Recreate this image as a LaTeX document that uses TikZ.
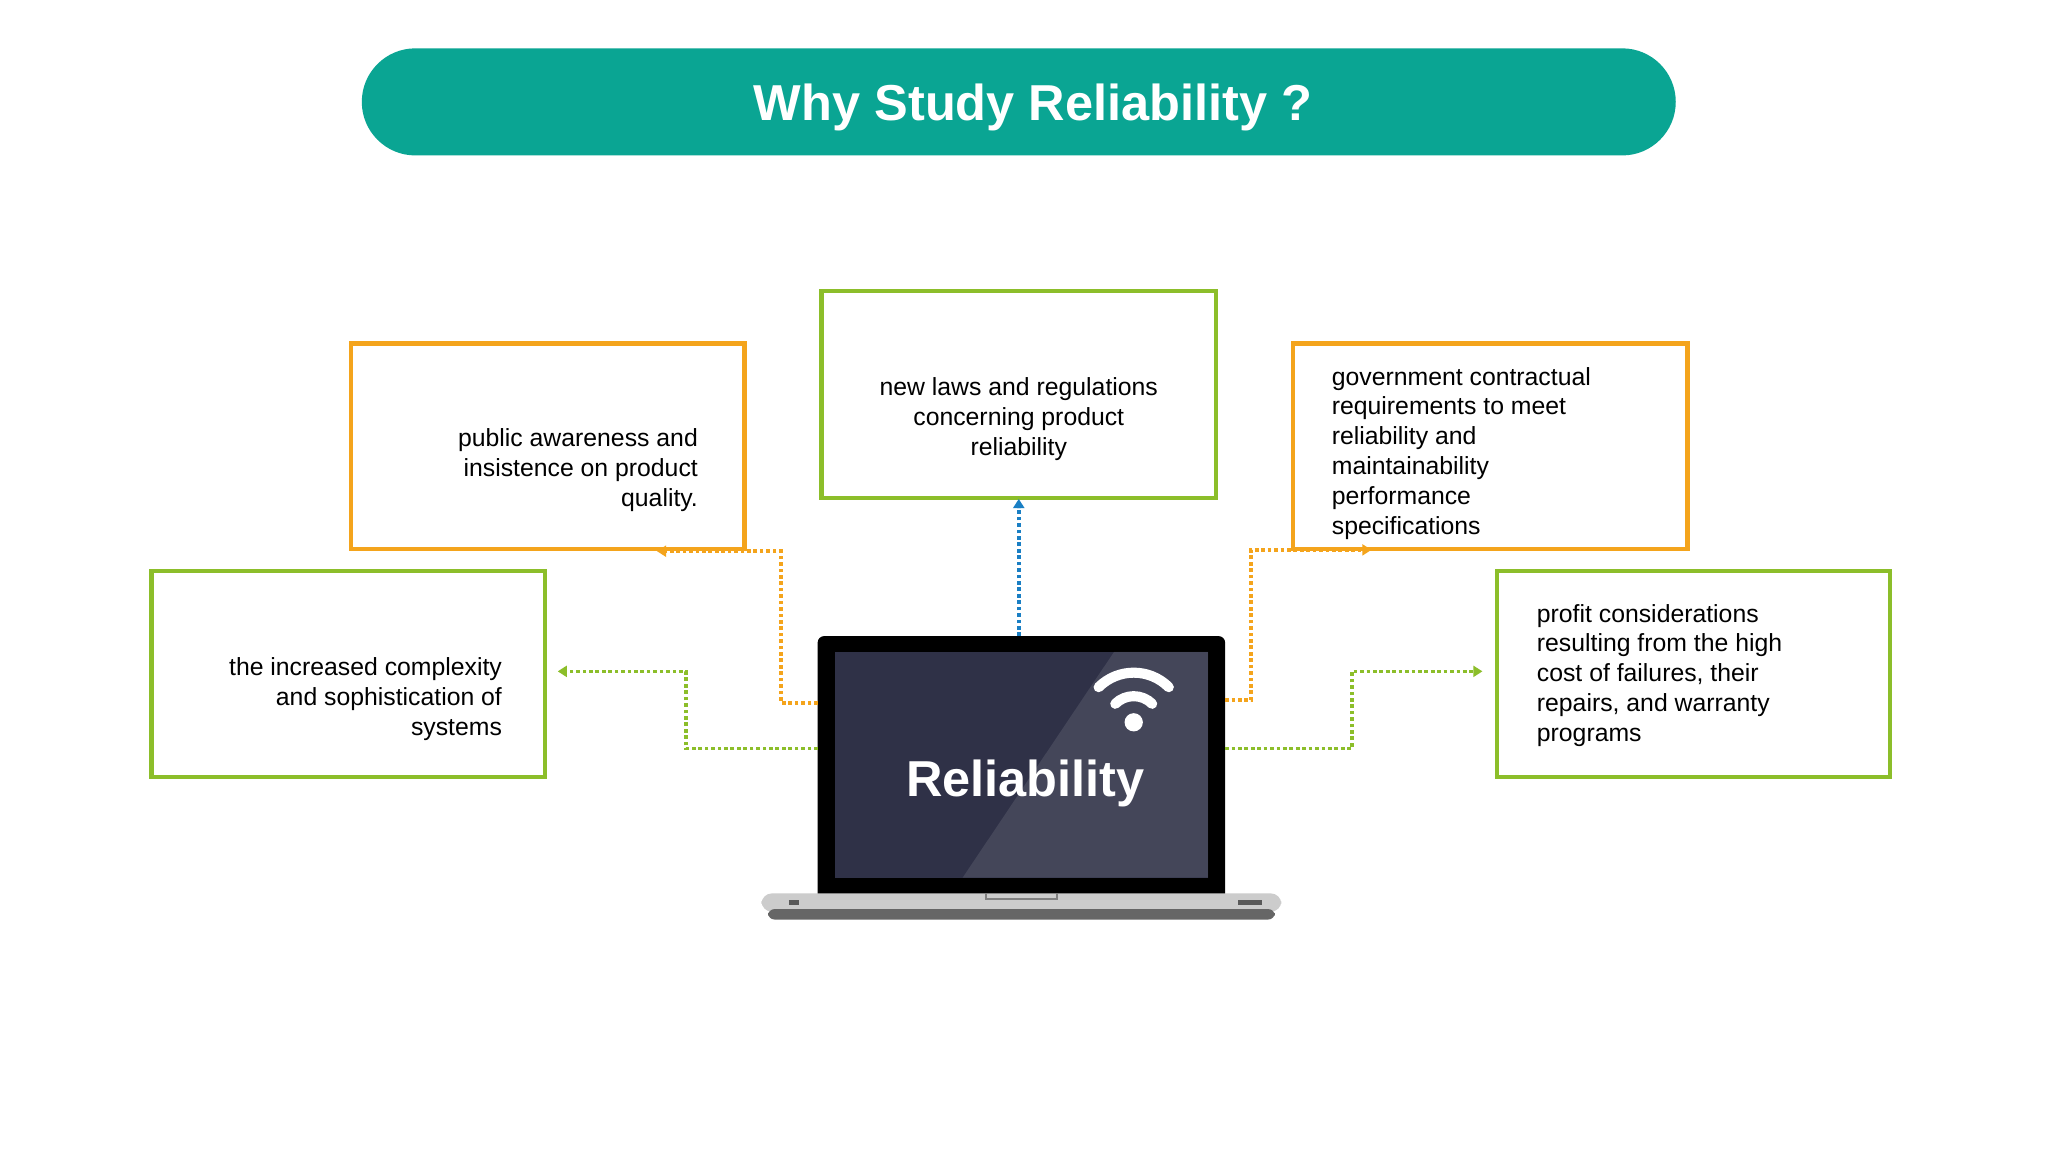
\documentclass[tikz,border=0pt]{standalone}
\usepackage{fontspec}
\setmainfont{Liberation Sans}
\usetikzlibrary{arrows.meta}
\definecolor{teal}{HTML}{0AA593}
\definecolor{org}{HTML}{F4A41C}
\definecolor{grn}{HTML}{8CBE2A}
\definecolor{blu}{HTML}{1A7FC4}
\definecolor{scr}{HTML}{2F3147}
\tikzset{
 box/.style={draw, line width=0.9pt, inner sep=0pt},
 txt/.style={font=\fontsize{5.4}{6.5}\selectfont, align=#1, inner sep=0pt},
 con/.style={draw=#1, line width=0.8pt, dash pattern=on 0.8pt off 0.6pt, -{Triangle[length=2pt,width=2.4pt]}},
}
\begin{document}
\begin{tikzpicture}[x=0.1mm,y=-0.1mm]
\useasboundingbox (0,0) rectangle (1568,882);
\fill[white] (0,0) rectangle (1568,882);
% title
\fill[teal, rounded corners=41*0.1mm] (277,37) rectangle (1283,119);
\node[text=white, font=\fontsize{11}{13}\selectfont\bfseries] (title) at (791,82) {Why Study Reliability ?};
% boxes
\draw[box, draw=org] (269,263) rectangle (570,420);
\coordinate (A) at (503,422);
\node[txt=right, anchor=east] (ta) at (535,360) {public awareness and\\insistence on product\\quality.};
\draw[box, draw=grn] (629,223) rectangle (931,381);
\coordinate (B) at (780,382);
\node[txt=center] (tb) at (780,321) {new laws and regulations\\concerning product\\reliability};
\draw[box, draw=org] (990,263) rectangle (1292,420);
\coordinate (C) at (1050,421);
\node[txt=left, anchor=west] (tc) at (1019,347) {government contractual\\requirements to meet\\reliability and\\maintainability\\performance\\specifications};
\draw[box, draw=grn] (116,437) rectangle (417,595);
\coordinate (D) at (427,514);
\node[txt=right, anchor=east] (td) at (385,535) {the increased complexity\\and sophistication of\\systems};
\draw[box, draw=grn] (1146,437) rectangle (1447,595);
\coordinate (E) at (1135,514);
\node[txt=left, anchor=west] (te) at (1176,517) {profit considerations\\resulting from the high\\cost of failures, their\\repairs, and warranty\\programs};
% laptop
\fill[black, rounded corners=5*0.1mm] (626,487) rectangle (938,690);
\fill[scr] (639,499) rectangle (925,672);
\fill[white, opacity=0.1] (853,499) -- (925,499) -- (925,672) -- (737,672) -- cycle;
\fill[gray!40, rounded corners=8*0.1mm] (583,684) rectangle (981,698);
\fill[gray!80!black, rounded corners=5*0.1mm] (588,696) rectangle (976,704);
\draw[gray, line width=0.4pt] (755,684) -- (755,688) -- (809,688) -- (809,684);
\draw[gray!70!black, line width=1pt] (604,691) -- (612,691) (948,691) -- (966,691);
\node[text=white, font=\fontsize{11}{13}\selectfont\bfseries] (lap) at (785,600) {Reliability};
\fill[white] (868,553) circle (7*0.1mm);
\foreach \r in {20,38}{\draw[white, line width=2.2pt, line cap=round] (868,553) ++(45:\r*0.1mm) arc[start angle=45, end angle=135, radius=\r*0.1mm];}
% connectors
\draw[con=blu] (780,487) -- (B);
\draw[con=org] (626,538) -- (598,538) -- (598,422) -- (A);
\draw[con=grn] (626,573) -- (525,573) -- (525,514) -- (D);
\draw[con=org] (938,536) -- (958,536) -- (958,421) -- (C);
\draw[con=grn] (938,573) -- (1035,573) -- (1035,514) -- (E);
\end{tikzpicture}
\end{document}
